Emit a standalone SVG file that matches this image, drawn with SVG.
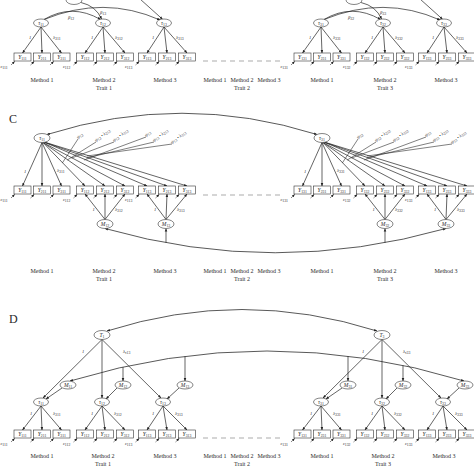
<svg xmlns="http://www.w3.org/2000/svg" width="474" height="474" viewBox="0 0 474 474">
<defs>
<marker id="ah" viewBox="0 0 6 6" refX="5.6" refY="3" markerWidth="3.2" markerHeight="3.2" orient="auto-start-reverse" markerUnits="userSpaceOnUse"><path d="M0,0.6 L6,3 L0,5.4 z" fill="#222"/></marker>
<style>
.l{stroke:#2a2a2a;stroke-width:0.6;fill:none}
.a{stroke:#222;stroke-width:0.7;fill:none;marker-end:url(#ah)}
.b{stroke:#222;stroke-width:0.75;fill:none;marker-start:url(#ah);marker-end:url(#ah)}
.e{stroke:#222;stroke-width:0.55;fill:none;marker-end:url(#ah)}
.dash{stroke:#888;stroke-width:0.7;stroke-dasharray:5 4}
.bx{fill:#fff;stroke:#333;stroke-width:0.6}
.el{fill:#fff;stroke:#333;stroke-width:0.6}
text{font-family:"Liberation Serif","DejaVu Serif",serif;fill:#2a2a2a}
.v{font-size:5.5px;font-style:italic;text-anchor:middle}
.s{font-size:3.8px;font-style:normal}
.m{font-size:6px;text-anchor:middle}
.p{font-size:4.6px;font-style:italic}
.k{font-size:12px}
</style>
</defs>
<rect width="474" height="474" fill="#fff"/>

<g id="connectors">
<path class="a" d="M44,19.5 Q72,3 100.5,19.5"/>
<path class="a" d="M44,19.5 Q104,-5 160,20"/>
<path class="a" d="M324,19.5 Q352,3 380.5,19.5"/>
<path class="a" d="M324,19.5 Q384,-5 440,20"/>
<path class="a" d="M81,2.5 Q96,6 101.5,19"/>
<line class="a" x1="140" y1="-1" x2="162.5" y2="19.2"/>
<path class="a" d="M361,2.5 Q376,6 381.5,19"/>
<line class="a" x1="420" y1="-1" x2="442.5" y2="19.2"/>
<line class="a" x1="41" y1="27" x2="22.5" y2="53"/><line class="a" x1="41" y1="27" x2="42" y2="53"/><line class="a" x1="41" y1="27" x2="61.5" y2="53"/>
<line class="a" x1="103" y1="27" x2="85" y2="53"/><line class="a" x1="103" y1="27" x2="105" y2="53"/><line class="a" x1="103" y1="27" x2="125" y2="53"/>
<line class="a" x1="164" y1="27" x2="147" y2="53"/><line class="a" x1="164" y1="27" x2="167" y2="53"/><line class="a" x1="164" y1="27" x2="187" y2="53"/>
<line class="a" x1="321" y1="27" x2="302.5" y2="53"/><line class="a" x1="321" y1="27" x2="322" y2="53"/><line class="a" x1="321" y1="27" x2="341.5" y2="53"/>
<line class="a" x1="383" y1="27" x2="365" y2="53"/><line class="a" x1="383" y1="27" x2="385" y2="53"/><line class="a" x1="383" y1="27" x2="405" y2="53"/>
<line class="a" x1="444" y1="27" x2="427" y2="53"/><line class="a" x1="444" y1="27" x2="447" y2="53"/><line class="a" x1="444" y1="27" x2="467" y2="53"/>
<line class="e" x1="11" y1="65" x2="14.7" y2="61.4"/><line class="e" x1="30.5" y1="65" x2="34.2" y2="61.4"/><line class="e" x1="50" y1="65" x2="53.7" y2="61.4"/>
<line class="e" x1="73.5" y1="65" x2="77.2" y2="61.4"/><line class="e" x1="93.5" y1="65" x2="97.2" y2="61.4"/><line class="e" x1="113.5" y1="65" x2="117.2" y2="61.4"/>
<line class="e" x1="135.5" y1="65" x2="139.2" y2="61.4"/><line class="e" x1="155.5" y1="65" x2="159.2" y2="61.4"/><line class="e" x1="175.5" y1="65" x2="179.2" y2="61.4"/>
<line class="e" x1="291" y1="65" x2="294.7" y2="61.4"/><line class="e" x1="310.5" y1="65" x2="314.2" y2="61.4"/><line class="e" x1="330" y1="65" x2="333.7" y2="61.4"/>
<line class="e" x1="353.5" y1="65" x2="357.2" y2="61.4"/><line class="e" x1="373.5" y1="65" x2="377.2" y2="61.4"/><line class="e" x1="393.5" y1="65" x2="397.2" y2="61.4"/>
<line class="e" x1="415.5" y1="65" x2="419.2" y2="61.4"/><line class="e" x1="435.5" y1="65" x2="439.2" y2="61.4"/><line class="e" x1="455.5" y1="65" x2="459.2" y2="61.4"/>
<line class="dash" x1="203" y1="61" x2="281" y2="61"/>

<path class="b" d="M47,134.5 Q182,92 317,134.5"/>
<line class="a" x1="42" y1="142.5" x2="22.5" y2="186"/><line class="a" x1="42" y1="142.5" x2="42" y2="186"/><line class="a" x1="42" y1="142.5" x2="61.5" y2="186"/>
<line class="a" x1="43" y1="142.5" x2="85" y2="186"/><line class="a" x1="43" y1="142.5" x2="105" y2="186"/><line class="a" x1="43" y1="142.5" x2="125" y2="186"/>
<line class="a" x1="44" y1="142" x2="147" y2="186"/><line class="a" x1="44" y1="142" x2="167" y2="186"/><line class="a" x1="44" y1="142" x2="187" y2="186"/>
<line class="a" x1="322" y1="142.5" x2="302.5" y2="186"/><line class="a" x1="322" y1="142.5" x2="322" y2="186"/><line class="a" x1="322" y1="142.5" x2="341.5" y2="186"/>
<line class="a" x1="323" y1="142.5" x2="365" y2="186"/><line class="a" x1="323" y1="142.5" x2="385" y2="186"/><line class="a" x1="323" y1="142.5" x2="405" y2="186"/>
<line class="a" x1="324" y1="142" x2="427" y2="186"/><line class="a" x1="324" y1="142" x2="447" y2="186"/><line class="a" x1="324" y1="142" x2="467" y2="186"/>
<line class="l" x1="78" y1="139" x2="62.3" y2="163"/><line class="l" x1="96" y1="142" x2="67.3" y2="160"/><line class="l" x1="114" y1="142" x2="71.6" y2="158"/>
<line class="l" x1="146" y1="137" x2="84.2" y2="160"/><line class="l" x1="154" y1="142" x2="86.5" y2="158"/><line class="l" x1="172" y1="144" x2="87" y2="156"/>
<line class="l" x1="358" y1="139" x2="342.3" y2="163"/><line class="l" x1="376" y1="142" x2="347.3" y2="160"/><line class="l" x1="394" y1="142" x2="351.6" y2="158"/>
<line class="l" x1="426" y1="137" x2="364.2" y2="160"/><line class="l" x1="434" y1="142" x2="366.5" y2="158"/><line class="l" x1="452" y1="144" x2="367" y2="156"/>
<line class="a" x1="105" y1="219.5" x2="85" y2="194"/><line class="a" x1="105" y1="219.5" x2="105" y2="194"/><line class="a" x1="105" y1="219.5" x2="125" y2="194"/>
<line class="a" x1="166" y1="219.5" x2="147" y2="194"/><line class="a" x1="166" y1="219.5" x2="167" y2="194"/><line class="a" x1="166" y1="219.5" x2="187" y2="194"/>
<line class="a" x1="385" y1="219.5" x2="365" y2="194"/><line class="a" x1="385" y1="219.5" x2="385" y2="194"/><line class="a" x1="385" y1="219.5" x2="405" y2="194"/>
<line class="a" x1="446" y1="219.5" x2="427" y2="194"/><line class="a" x1="446" y1="219.5" x2="447" y2="194"/><line class="a" x1="446" y1="219.5" x2="467" y2="194"/>
<path class="b" d="M105,228.5 Q275,277 446,228.5"/>
<line class="a" x1="166" y1="242.8" x2="166" y2="228.6"/>
<line class="a" x1="385" y1="242.8" x2="385" y2="228.6"/>
<line class="e" x1="11" y1="198" x2="14.7" y2="194.4"/><line class="e" x1="30.5" y1="198" x2="34.2" y2="194.4"/><line class="e" x1="50" y1="198" x2="53.7" y2="194.4"/>
<line class="e" x1="73.5" y1="198" x2="77.2" y2="194.4"/><line class="e" x1="93.5" y1="198" x2="97.2" y2="194.4"/><line class="e" x1="113.5" y1="198" x2="117.2" y2="194.4"/>
<line class="e" x1="135.5" y1="198" x2="139.2" y2="194.4"/><line class="e" x1="155.5" y1="198" x2="159.2" y2="194.4"/><line class="e" x1="175.5" y1="198" x2="179.2" y2="194.4"/>
<line class="e" x1="291" y1="198" x2="294.7" y2="194.4"/><line class="e" x1="310.5" y1="198" x2="314.2" y2="194.4"/><line class="e" x1="330" y1="198" x2="333.7" y2="194.4"/>
<line class="e" x1="353.5" y1="198" x2="357.2" y2="194.4"/><line class="e" x1="373.5" y1="198" x2="377.2" y2="194.4"/><line class="e" x1="393.5" y1="198" x2="397.2" y2="194.4"/>
<line class="e" x1="415.5" y1="198" x2="419.2" y2="194.4"/><line class="e" x1="435.5" y1="198" x2="439.2" y2="194.4"/><line class="e" x1="455.5" y1="198" x2="459.2" y2="194.4"/>
<line class="dash" x1="203" y1="195" x2="281" y2="195"/>

<path class="b" d="M107,331 Q242,288 377,331"/>
<line class="a" x1="102" y1="339.5" x2="43" y2="398"/><line class="a" x1="102" y1="339.5" x2="102" y2="398"/><line class="a" x1="102" y1="339.5" x2="161" y2="398"/>
<line class="a" x1="382" y1="339.5" x2="323" y2="398"/><line class="a" x1="382" y1="339.5" x2="382" y2="398"/><line class="a" x1="382" y1="339.5" x2="441" y2="398"/>
<line class="a" x1="62" y1="388" x2="46" y2="399"/><line class="a" x1="117" y1="388" x2="106" y2="399"/><line class="a" x1="179" y1="388" x2="167" y2="399"/>
<line class="a" x1="342" y1="388" x2="326" y2="399"/><line class="a" x1="397" y1="388" x2="386" y2="399"/><line class="a" x1="459" y1="388" x2="447" y2="399"/>
<path class="b" d="M70,381 Q267,321 464,381"/>
<line class="a" x1="123" y1="367" x2="123" y2="381"/><line class="a" x1="185" y1="356.2" x2="185" y2="381"/>
<line class="a" x1="348" y1="356.1" x2="348" y2="381"/><line class="a" x1="403" y1="365.3" x2="403" y2="381"/>
<line class="a" x1="41" y1="406" x2="22.5" y2="430"/><line class="a" x1="41" y1="406" x2="42" y2="430"/><line class="a" x1="41" y1="406" x2="61.5" y2="430"/>
<line class="a" x1="102" y1="406" x2="85" y2="430"/><line class="a" x1="102" y1="406" x2="105" y2="430"/><line class="a" x1="102" y1="406" x2="125" y2="430"/>
<line class="a" x1="163" y1="406" x2="147" y2="430"/><line class="a" x1="163" y1="406" x2="167" y2="430"/><line class="a" x1="163" y1="406" x2="187" y2="430"/>
<line class="a" x1="321" y1="406" x2="302.5" y2="430"/><line class="a" x1="321" y1="406" x2="322" y2="430"/><line class="a" x1="321" y1="406" x2="341.5" y2="430"/>
<line class="a" x1="382" y1="406" x2="365" y2="430"/><line class="a" x1="382" y1="406" x2="385" y2="430"/><line class="a" x1="382" y1="406" x2="405" y2="430"/>
<line class="a" x1="443" y1="406" x2="427" y2="430"/><line class="a" x1="443" y1="406" x2="447" y2="430"/><line class="a" x1="443" y1="406" x2="467" y2="430"/>
<line class="e" x1="11" y1="442" x2="14.7" y2="438.4"/><line class="e" x1="30.5" y1="442" x2="34.2" y2="438.4"/><line class="e" x1="50" y1="442" x2="53.7" y2="438.4"/>
<line class="e" x1="73.5" y1="442" x2="77.2" y2="438.4"/><line class="e" x1="93.5" y1="442" x2="97.2" y2="438.4"/><line class="e" x1="113.5" y1="442" x2="117.2" y2="438.4"/>
<line class="e" x1="135.5" y1="442" x2="139.2" y2="438.4"/><line class="e" x1="155.5" y1="442" x2="159.2" y2="438.4"/><line class="e" x1="175.5" y1="442" x2="179.2" y2="438.4"/>
<line class="e" x1="291" y1="442" x2="294.7" y2="438.4"/><line class="e" x1="310.5" y1="442" x2="314.2" y2="438.4"/><line class="e" x1="330" y1="442" x2="333.7" y2="438.4"/>
<line class="e" x1="353.5" y1="442" x2="357.2" y2="438.4"/><line class="e" x1="373.5" y1="442" x2="377.2" y2="438.4"/><line class="e" x1="393.5" y1="442" x2="397.2" y2="438.4"/>
<line class="e" x1="415.5" y1="442" x2="419.2" y2="438.4"/><line class="e" x1="435.5" y1="442" x2="439.2" y2="438.4"/><line class="e" x1="455.5" y1="442" x2="459.2" y2="438.4"/>
<line class="dash" x1="203" y1="438" x2="281" y2="438"/>
</g>

<g id="B-top-left"><ellipse class="el" cx="74" cy="0" rx="8" ry="4.5"/></g>
<g id="B-top-right"><ellipse class="el" cx="354" cy="0" rx="8" ry="4.5"/></g>
<g id="B-tau11"><ellipse class="el" cx="41" cy="23" rx="7.5" ry="4"/><text class="v" x="41" y="24.5">τ<tspan class="s" dy="1">11</tspan></text></g>
<g id="B-tau12"><ellipse class="el" cx="103" cy="23" rx="7.5" ry="4"/><text class="v" x="103" y="24.5">τ<tspan class="s" dy="1">12</tspan></text></g>
<g id="B-tau13"><ellipse class="el" cx="164" cy="23" rx="7.5" ry="4"/><text class="v" x="164" y="24.5">τ<tspan class="s" dy="1">13</tspan></text></g>
<g id="B-tau31"><ellipse class="el" cx="321" cy="23" rx="7.5" ry="4"/><text class="v" x="321" y="24.5">τ<tspan class="s" dy="1">31</tspan></text></g>
<g id="B-tau32"><ellipse class="el" cx="383" cy="23" rx="7.5" ry="4"/><text class="v" x="383" y="24.5">τ<tspan class="s" dy="1">32</tspan></text></g>
<g id="B-tau33"><ellipse class="el" cx="444" cy="23" rx="7.5" ry="4"/><text class="v" x="444" y="24.5">τ<tspan class="s" dy="1">33</tspan></text></g>
<g id="B-Y111"><rect class="bx" x="14" y="53" width="17" height="8"/><text class="v" x="22.5" y="58.8">Y<tspan class="s" dy="1">111</tspan></text></g>
<g id="B-Y211"><rect class="bx" x="33.5" y="53" width="17" height="8"/><text class="v" x="42" y="58.8">Y<tspan class="s" dy="1">211</tspan></text></g>
<g id="B-Y311"><rect class="bx" x="53" y="53" width="17" height="8"/><text class="v" x="61.5" y="58.8">Y<tspan class="s" dy="1">311</tspan></text></g>
<g id="B-Y112"><rect class="bx" x="76.5" y="53" width="17" height="8"/><text class="v" x="85" y="58.8">Y<tspan class="s" dy="1">112</tspan></text></g>
<g id="B-Y212"><rect class="bx" x="96.5" y="53" width="17" height="8"/><text class="v" x="105" y="58.8">Y<tspan class="s" dy="1">212</tspan></text></g>
<g id="B-Y312"><rect class="bx" x="116.5" y="53" width="17" height="8"/><text class="v" x="125" y="58.8">Y<tspan class="s" dy="1">312</tspan></text></g>
<g id="B-Y113"><rect class="bx" x="138.5" y="53" width="17" height="8"/><text class="v" x="147" y="58.8">Y<tspan class="s" dy="1">113</tspan></text></g>
<g id="B-Y213"><rect class="bx" x="158.5" y="53" width="17" height="8"/><text class="v" x="167" y="58.8">Y<tspan class="s" dy="1">213</tspan></text></g>
<g id="B-Y313"><rect class="bx" x="178.5" y="53" width="17" height="8"/><text class="v" x="187" y="58.8">Y<tspan class="s" dy="1">313</tspan></text></g>
<g id="B-Y131"><rect class="bx" x="294" y="53" width="17" height="8"/><text class="v" x="302.5" y="58.8">Y<tspan class="s" dy="1">131</tspan></text></g>
<g id="B-Y231"><rect class="bx" x="313.5" y="53" width="17" height="8"/><text class="v" x="322" y="58.8">Y<tspan class="s" dy="1">231</tspan></text></g>
<g id="B-Y331"><rect class="bx" x="333" y="53" width="17" height="8"/><text class="v" x="341.5" y="58.8">Y<tspan class="s" dy="1">331</tspan></text></g>
<g id="B-Y132"><rect class="bx" x="356.5" y="53" width="17" height="8"/><text class="v" x="365" y="58.8">Y<tspan class="s" dy="1">132</tspan></text></g>
<g id="B-Y232"><rect class="bx" x="376.5" y="53" width="17" height="8"/><text class="v" x="385" y="58.8">Y<tspan class="s" dy="1">232</tspan></text></g>
<g id="B-Y332"><rect class="bx" x="396.5" y="53" width="17" height="8"/><text class="v" x="405" y="58.8">Y<tspan class="s" dy="1">332</tspan></text></g>
<g id="B-Y133"><rect class="bx" x="418.5" y="53" width="17" height="8"/><text class="v" x="427" y="58.8">Y<tspan class="s" dy="1">133</tspan></text></g>
<g id="B-Y233"><rect class="bx" x="438.5" y="53" width="17" height="8"/><text class="v" x="447" y="58.8">Y<tspan class="s" dy="1">233</tspan></text></g>
<g id="B-Y333"><rect class="bx" x="458.5" y="53" width="17" height="8"/><text class="v" x="467" y="58.8">Y<tspan class="s" dy="1">333</tspan></text></g>
<g id="B-labels">
<text class="p" x="68" y="18.5">β<tspan class="s" dy="1">12</tspan></text>
<text class="p" x="100" y="13.5">β<tspan class="s" dy="1">13</tspan></text>
<text class="p" x="348" y="18.5">β<tspan class="s" dy="1">32</tspan></text>
<text class="p" x="380" y="13.5">β<tspan class="s" dy="1">33</tspan></text>
<text class="p" x="29" y="39">1</text><text class="p" x="53" y="39">λ<tspan class="s" dy="1">311</tspan></text>
<text class="p" x="91" y="39">1</text><text class="p" x="115" y="39">λ<tspan class="s" dy="1">312</tspan></text>
<text class="p" x="152" y="39">1</text><text class="p" x="176" y="39">λ<tspan class="s" dy="1">313</tspan></text>
<text class="p" x="309" y="39">1</text><text class="p" x="333" y="39">λ<tspan class="s" dy="1">331</tspan></text>
<text class="p" x="371" y="39">1</text><text class="p" x="395" y="39">λ<tspan class="s" dy="1">332</tspan></text>
<text class="p" x="432" y="39">1</text><text class="p" x="456" y="39">λ<tspan class="s" dy="1">333</tspan></text>
<text class="p" x="0.5" y="67.5">ε<tspan class="s" dy="1">111</tspan></text>
<text class="p" x="63" y="67.5">ε<tspan class="s" dy="1">112</tspan></text>
<text class="p" x="125" y="67.5">ε<tspan class="s" dy="1">113</tspan></text>
<text class="p" x="280.5" y="67.5">ε<tspan class="s" dy="1">131</tspan></text>
<text class="p" x="343" y="67.5">ε<tspan class="s" dy="1">132</tspan></text>
<text class="p" x="405" y="67.5">ε<tspan class="s" dy="1">133</tspan></text>
<text class="m" x="42" y="82">Method 1</text><text class="m" x="104" y="82">Method 2</text><text class="m" x="165" y="82">Method 3</text>
<text class="m" x="104" y="90">Trait 1</text>
<text class="m" x="215" y="82">Method 1</text><text class="m" x="242" y="82">Method 2</text><text class="m" x="269" y="82">Method 3</text>
<text class="m" x="242" y="90">Trait 2</text>
<text class="m" x="322" y="82">Method 1</text><text class="m" x="385" y="82">Method 2</text><text class="m" x="446" y="82">Method 3</text>
<text class="m" x="385" y="90">Trait 3</text>
</g>

<text class="k" x="9" y="123">C</text>
<g id="C-tau11"><ellipse class="el" cx="42" cy="138" rx="8" ry="4.5"/><text class="v" x="42" y="139.5">τ<tspan class="s" dy="1">11</tspan></text></g>
<g id="C-tau31"><ellipse class="el" cx="322" cy="138" rx="8" ry="4.5"/><text class="v" x="322" y="139.5">τ<tspan class="s" dy="1">31</tspan></text></g>
<g id="C-M12"><ellipse class="el" cx="105" cy="224" rx="8" ry="4.5"/><text class="v" x="105" y="225.5">M<tspan class="s" dy="1">12</tspan></text></g>
<g id="C-M13"><ellipse class="el" cx="166" cy="224" rx="8" ry="4.5"/><text class="v" x="166" y="225.5">M<tspan class="s" dy="1">13</tspan></text></g>
<g id="C-M32"><ellipse class="el" cx="385" cy="224" rx="8" ry="4.5"/><text class="v" x="385" y="225.5">M<tspan class="s" dy="1">32</tspan></text></g>
<g id="C-M33"><ellipse class="el" cx="446" cy="224" rx="8" ry="4.5"/><text class="v" x="446" y="225.5">M<tspan class="s" dy="1">33</tspan></text></g>
<g id="C-Y111"><rect class="bx" x="14" y="186" width="17" height="8"/><text class="v" x="22.5" y="191.8">Y<tspan class="s" dy="1">111</tspan></text></g>
<g id="C-Y211"><rect class="bx" x="33.5" y="186" width="17" height="8"/><text class="v" x="42" y="191.8">Y<tspan class="s" dy="1">211</tspan></text></g>
<g id="C-Y311"><rect class="bx" x="53" y="186" width="17" height="8"/><text class="v" x="61.5" y="191.8">Y<tspan class="s" dy="1">311</tspan></text></g>
<g id="C-Y112"><rect class="bx" x="76.5" y="186" width="17" height="8"/><text class="v" x="85" y="191.8">Y<tspan class="s" dy="1">112</tspan></text></g>
<g id="C-Y212"><rect class="bx" x="96.5" y="186" width="17" height="8"/><text class="v" x="105" y="191.8">Y<tspan class="s" dy="1">212</tspan></text></g>
<g id="C-Y312"><rect class="bx" x="116.5" y="186" width="17" height="8"/><text class="v" x="125" y="191.8">Y<tspan class="s" dy="1">312</tspan></text></g>
<g id="C-Y113"><rect class="bx" x="138.5" y="186" width="17" height="8"/><text class="v" x="147" y="191.8">Y<tspan class="s" dy="1">113</tspan></text></g>
<g id="C-Y213"><rect class="bx" x="158.5" y="186" width="17" height="8"/><text class="v" x="167" y="191.8">Y<tspan class="s" dy="1">213</tspan></text></g>
<g id="C-Y313"><rect class="bx" x="178.5" y="186" width="17" height="8"/><text class="v" x="187" y="191.8">Y<tspan class="s" dy="1">313</tspan></text></g>
<g id="C-Y131"><rect class="bx" x="294" y="186" width="17" height="8"/><text class="v" x="302.5" y="191.8">Y<tspan class="s" dy="1">131</tspan></text></g>
<g id="C-Y231"><rect class="bx" x="313.5" y="186" width="17" height="8"/><text class="v" x="322" y="191.8">Y<tspan class="s" dy="1">231</tspan></text></g>
<g id="C-Y331"><rect class="bx" x="333" y="186" width="17" height="8"/><text class="v" x="341.5" y="191.8">Y<tspan class="s" dy="1">331</tspan></text></g>
<g id="C-Y132"><rect class="bx" x="356.5" y="186" width="17" height="8"/><text class="v" x="365" y="191.8">Y<tspan class="s" dy="1">132</tspan></text></g>
<g id="C-Y232"><rect class="bx" x="376.5" y="186" width="17" height="8"/><text class="v" x="385" y="191.8">Y<tspan class="s" dy="1">232</tspan></text></g>
<g id="C-Y332"><rect class="bx" x="396.5" y="186" width="17" height="8"/><text class="v" x="405" y="191.8">Y<tspan class="s" dy="1">332</tspan></text></g>
<g id="C-Y133"><rect class="bx" x="418.5" y="186" width="17" height="8"/><text class="v" x="427" y="191.8">Y<tspan class="s" dy="1">133</tspan></text></g>
<g id="C-Y233"><rect class="bx" x="438.5" y="186" width="17" height="8"/><text class="v" x="447" y="191.8">Y<tspan class="s" dy="1">233</tspan></text></g>
<g id="C-Y333"><rect class="bx" x="458.5" y="186" width="17" height="8"/><text class="v" x="467" y="191.8">Y<tspan class="s" dy="1">333</tspan></text></g>
<g id="C-labels">
<text class="p" x="24" y="173">1</text><text class="p" x="57" y="172">λ<tspan class="s" dy="1">311</tspan></text>
<text class="p" x="304" y="173">1</text><text class="p" x="337" y="172">λ<tspan class="s" dy="1">331</tspan></text>
<text class="p" x="92.5" y="211">1</text><text class="p" x="115" y="211">λ<tspan class="s" dy="1">312</tspan></text>
<text class="p" x="154" y="211">1</text><text class="p" x="177" y="211">λ<tspan class="s" dy="1">313</tspan></text>
<text class="p" x="372.5" y="211">1</text><text class="p" x="395" y="211">λ<tspan class="s" dy="1">332</tspan></text>
<text class="p" x="434" y="211">1</text><text class="p" x="457" y="211">λ<tspan class="s" dy="1">333</tspan></text>
<text class="p" transform="rotate(-38 78 139)" x="78" y="139">ψ<tspan class="s" dy="1">12</tspan></text>
<text class="p" transform="rotate(-38 96 142)" x="96" y="142">ψ<tspan class="s" dy="1">12</tspan><tspan dy="-1"> • λ</tspan><tspan class="s" dy="1">212</tspan></text>
<text class="p" transform="rotate(-38 114 142)" x="114" y="142">ψ<tspan class="s" dy="1">12</tspan><tspan dy="-1"> • λ</tspan><tspan class="s" dy="1">312</tspan></text>
<text class="p" transform="rotate(-38 146 137)" x="146" y="137">ψ<tspan class="s" dy="1">13</tspan></text>
<text class="p" transform="rotate(-38 154 142)" x="154" y="142">ψ<tspan class="s" dy="1">13</tspan><tspan dy="-1"> • λ</tspan><tspan class="s" dy="1">213</tspan></text>
<text class="p" transform="rotate(-38 172 144)" x="172" y="144">ψ<tspan class="s" dy="1">13</tspan><tspan dy="-1"> • λ</tspan><tspan class="s" dy="1">313</tspan></text>
<text class="p" transform="rotate(-38 358 139)" x="358" y="139">ψ<tspan class="s" dy="1">32</tspan></text>
<text class="p" transform="rotate(-38 376 142)" x="376" y="142">ψ<tspan class="s" dy="1">32</tspan><tspan dy="-1"> • λ</tspan><tspan class="s" dy="1">232</tspan></text>
<text class="p" transform="rotate(-38 394 142)" x="394" y="142">ψ<tspan class="s" dy="1">32</tspan><tspan dy="-1"> • λ</tspan><tspan class="s" dy="1">332</tspan></text>
<text class="p" transform="rotate(-38 426 137)" x="426" y="137">ψ<tspan class="s" dy="1">33</tspan></text>
<text class="p" transform="rotate(-38 434 142)" x="434" y="142">ψ<tspan class="s" dy="1">33</tspan><tspan dy="-1"> • λ</tspan><tspan class="s" dy="1">233</tspan></text>
<text class="p" transform="rotate(-38 452 144)" x="452" y="144">ψ<tspan class="s" dy="1">33</tspan><tspan dy="-1"> • λ</tspan><tspan class="s" dy="1">333</tspan></text>
<text class="p" x="0.5" y="200.5">ε<tspan class="s" dy="1">111</tspan></text>
<text class="p" x="63" y="200.5">ε<tspan class="s" dy="1">112</tspan></text>
<text class="p" x="125" y="200.5">ε<tspan class="s" dy="1">113</tspan></text>
<text class="p" x="280.5" y="200.5">ε<tspan class="s" dy="1">131</tspan></text>
<text class="p" x="343" y="200.5">ε<tspan class="s" dy="1">132</tspan></text>
<text class="p" x="405" y="200.5">ε<tspan class="s" dy="1">133</tspan></text>
<text class="m" x="42" y="272.5">Method 1</text><text class="m" x="104" y="272.5">Method 2</text><text class="m" x="165" y="272.5">Method 3</text>
<text class="m" x="104" y="280.5">Trait 1</text>
<text class="m" x="215" y="272.5">Method 1</text><text class="m" x="242" y="272.5">Method 2</text><text class="m" x="269" y="272.5">Method 3</text>
<text class="m" x="242" y="280.5">Trait 2</text>
<text class="m" x="322" y="272.5">Method 1</text><text class="m" x="385" y="272.5">Method 2</text><text class="m" x="446" y="272.5">Method 3</text>
<text class="m" x="385" y="280.5">Trait 3</text>
</g>

<text class="k" x="9" y="323">D</text>
<g id="D-T1"><ellipse class="el" cx="102" cy="335" rx="8" ry="4.5"/><text class="v" x="102" y="336.5">T<tspan class="s" dy="1">1</tspan></text></g>
<g id="D-T3"><ellipse class="el" cx="382" cy="335" rx="8" ry="4.5"/><text class="v" x="382" y="336.5">T<tspan class="s" dy="1">3</tspan></text></g>
<g id="D-M11"><ellipse class="el" cx="68" cy="385" rx="8" ry="4"/><text class="v" x="68" y="386.5">M<tspan class="s" dy="1">11</tspan></text></g>
<g id="D-M12"><ellipse class="el" cx="123" cy="385" rx="8" ry="4"/><text class="v" x="123" y="386.5">M<tspan class="s" dy="1">12</tspan></text></g>
<g id="D-M13"><ellipse class="el" cx="185" cy="385" rx="8" ry="4"/><text class="v" x="185" y="386.5">M<tspan class="s" dy="1">13</tspan></text></g>
<g id="D-M31"><ellipse class="el" cx="348" cy="385" rx="8" ry="4"/><text class="v" x="348" y="386.5">M<tspan class="s" dy="1">31</tspan></text></g>
<g id="D-M32"><ellipse class="el" cx="403" cy="385" rx="8" ry="4"/><text class="v" x="403" y="386.5">M<tspan class="s" dy="1">32</tspan></text></g>
<g id="D-M33"><ellipse class="el" cx="465" cy="385" rx="8" ry="4"/><text class="v" x="465" y="386.5">M<tspan class="s" dy="1">33</tspan></text></g>
<g id="D-tau11"><ellipse class="el" cx="41" cy="402" rx="7.5" ry="4"/><text class="v" x="41" y="403.5">τ<tspan class="s" dy="1">11</tspan></text></g>
<g id="D-tau12"><ellipse class="el" cx="102" cy="402" rx="7.5" ry="4"/><text class="v" x="102" y="403.5">τ<tspan class="s" dy="1">12</tspan></text></g>
<g id="D-tau13"><ellipse class="el" cx="163" cy="402" rx="7.5" ry="4"/><text class="v" x="163" y="403.5">τ<tspan class="s" dy="1">13</tspan></text></g>
<g id="D-tau31"><ellipse class="el" cx="321" cy="402" rx="7.5" ry="4"/><text class="v" x="321" y="403.5">τ<tspan class="s" dy="1">31</tspan></text></g>
<g id="D-tau32"><ellipse class="el" cx="382" cy="402" rx="7.5" ry="4"/><text class="v" x="382" y="403.5">τ<tspan class="s" dy="1">32</tspan></text></g>
<g id="D-tau33"><ellipse class="el" cx="443" cy="402" rx="7.5" ry="4"/><text class="v" x="443" y="403.5">τ<tspan class="s" dy="1">33</tspan></text></g>
<g id="D-Y111"><rect class="bx" x="14" y="430" width="17" height="8"/><text class="v" x="22.5" y="435.8">Y<tspan class="s" dy="1">111</tspan></text></g>
<g id="D-Y211"><rect class="bx" x="33.5" y="430" width="17" height="8"/><text class="v" x="42" y="435.8">Y<tspan class="s" dy="1">211</tspan></text></g>
<g id="D-Y311"><rect class="bx" x="53" y="430" width="17" height="8"/><text class="v" x="61.5" y="435.8">Y<tspan class="s" dy="1">311</tspan></text></g>
<g id="D-Y112"><rect class="bx" x="76.5" y="430" width="17" height="8"/><text class="v" x="85" y="435.8">Y<tspan class="s" dy="1">112</tspan></text></g>
<g id="D-Y212"><rect class="bx" x="96.5" y="430" width="17" height="8"/><text class="v" x="105" y="435.8">Y<tspan class="s" dy="1">212</tspan></text></g>
<g id="D-Y312"><rect class="bx" x="116.5" y="430" width="17" height="8"/><text class="v" x="125" y="435.8">Y<tspan class="s" dy="1">312</tspan></text></g>
<g id="D-Y113"><rect class="bx" x="138.5" y="430" width="17" height="8"/><text class="v" x="147" y="435.8">Y<tspan class="s" dy="1">113</tspan></text></g>
<g id="D-Y213"><rect class="bx" x="158.5" y="430" width="17" height="8"/><text class="v" x="167" y="435.8">Y<tspan class="s" dy="1">213</tspan></text></g>
<g id="D-Y313"><rect class="bx" x="178.5" y="430" width="17" height="8"/><text class="v" x="187" y="435.8">Y<tspan class="s" dy="1">313</tspan></text></g>
<g id="D-Y131"><rect class="bx" x="294" y="430" width="17" height="8"/><text class="v" x="302.5" y="435.8">Y<tspan class="s" dy="1">131</tspan></text></g>
<g id="D-Y231"><rect class="bx" x="313.5" y="430" width="17" height="8"/><text class="v" x="322" y="435.8">Y<tspan class="s" dy="1">231</tspan></text></g>
<g id="D-Y331"><rect class="bx" x="333" y="430" width="17" height="8"/><text class="v" x="341.5" y="435.8">Y<tspan class="s" dy="1">331</tspan></text></g>
<g id="D-Y132"><rect class="bx" x="356.5" y="430" width="17" height="8"/><text class="v" x="365" y="435.8">Y<tspan class="s" dy="1">132</tspan></text></g>
<g id="D-Y232"><rect class="bx" x="376.5" y="430" width="17" height="8"/><text class="v" x="385" y="435.8">Y<tspan class="s" dy="1">232</tspan></text></g>
<g id="D-Y332"><rect class="bx" x="396.5" y="430" width="17" height="8"/><text class="v" x="405" y="435.8">Y<tspan class="s" dy="1">332</tspan></text></g>
<g id="D-Y133"><rect class="bx" x="418.5" y="430" width="17" height="8"/><text class="v" x="427" y="435.8">Y<tspan class="s" dy="1">133</tspan></text></g>
<g id="D-Y233"><rect class="bx" x="438.5" y="430" width="17" height="8"/><text class="v" x="447" y="435.8">Y<tspan class="s" dy="1">233</tspan></text></g>
<g id="D-Y333"><rect class="bx" x="458.5" y="430" width="17" height="8"/><text class="v" x="467" y="435.8">Y<tspan class="s" dy="1">333</tspan></text></g>
<g id="D-labels">
<text class="p" x="82" y="353">1</text><text class="p" x="123" y="353">λ<tspan class="s" dy="1">τ13</tspan></text>
<text class="p" x="362" y="353">1</text><text class="p" x="403" y="353">λ<tspan class="s" dy="1">τ33</tspan></text>
<text class="p" x="30" y="415">1</text><text class="p" x="53" y="415">λ<tspan class="s" dy="1">311</tspan></text>
<text class="p" x="91" y="415">1</text><text class="p" x="114" y="415">λ<tspan class="s" dy="1">312</tspan></text>
<text class="p" x="152" y="415">1</text><text class="p" x="175" y="415">λ<tspan class="s" dy="1">313</tspan></text>
<text class="p" x="310" y="415">1</text><text class="p" x="333" y="415">λ<tspan class="s" dy="1">331</tspan></text>
<text class="p" x="371" y="415">1</text><text class="p" x="394" y="415">λ<tspan class="s" dy="1">332</tspan></text>
<text class="p" x="432" y="415">1</text><text class="p" x="455" y="415">λ<tspan class="s" dy="1">333</tspan></text>
<text class="p" x="0.5" y="444.5">ε<tspan class="s" dy="1">111</tspan></text>
<text class="p" x="63" y="444.5">ε<tspan class="s" dy="1">112</tspan></text>
<text class="p" x="125" y="444.5">ε<tspan class="s" dy="1">113</tspan></text>
<text class="p" x="280.5" y="444.5">ε<tspan class="s" dy="1">131</tspan></text>
<text class="p" x="343" y="444.5">ε<tspan class="s" dy="1">132</tspan></text>
<text class="p" x="405" y="444.5">ε<tspan class="s" dy="1">133</tspan></text>
<text class="m" x="42" y="458">Method 1</text><text class="m" x="103" y="458">Method 2</text><text class="m" x="165" y="458">Method 3</text>
<text class="m" x="103" y="466">Trait 1</text>
<text class="m" x="215" y="458">Method 1</text><text class="m" x="242" y="458">Method 2</text><text class="m" x="269" y="458">Method 3</text>
<text class="m" x="242" y="466">Trait 2</text>
<text class="m" x="322" y="458">Method 1</text><text class="m" x="383" y="458">Method 2</text><text class="m" x="444" y="458">Method 3</text>
<text class="m" x="383" y="466">Trait 3</text>
</g>
</svg>
